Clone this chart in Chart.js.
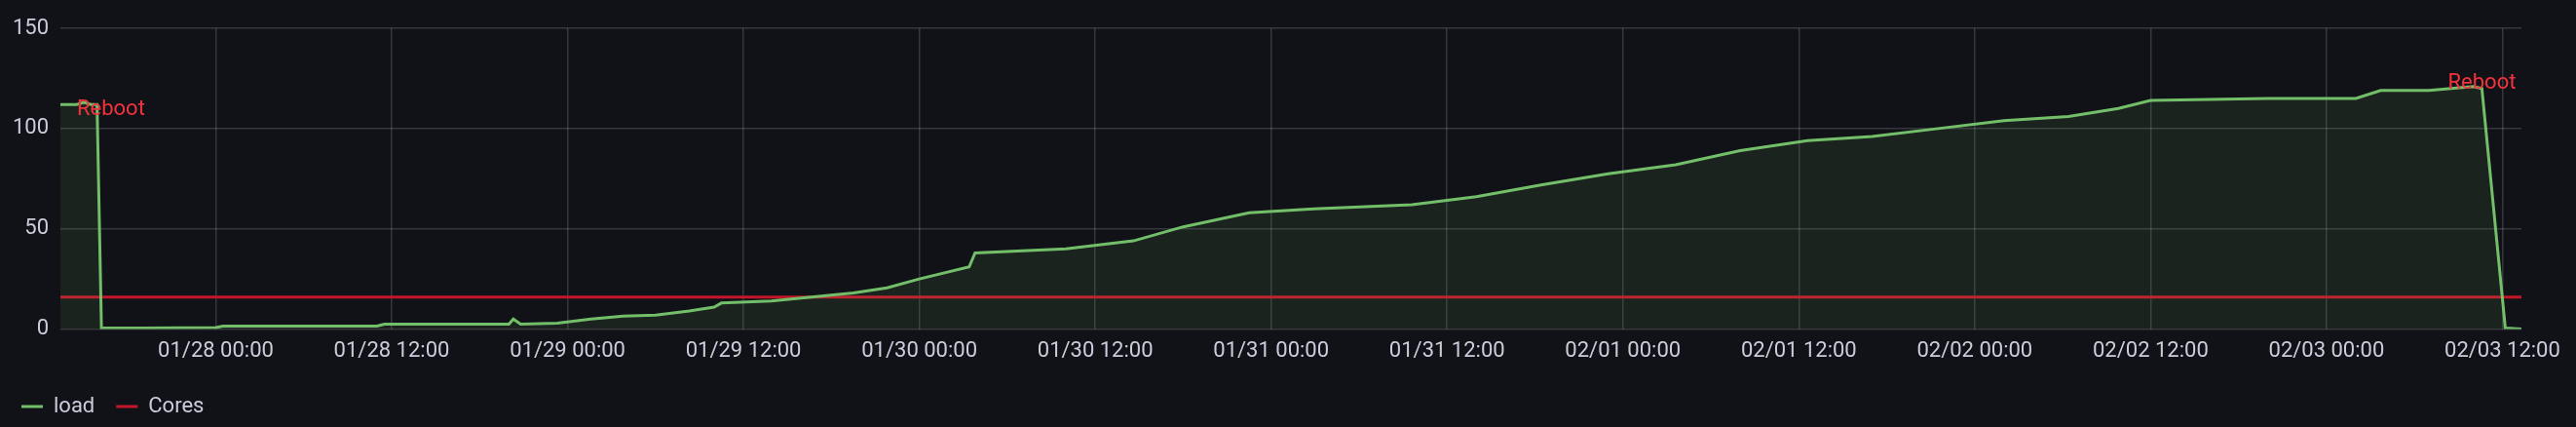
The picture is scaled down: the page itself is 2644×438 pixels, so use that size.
<!DOCTYPE html>
<html>
<head>
<meta charset="utf-8">
<script src="https://cdn.jsdelivr.net/npm/chart.js@4/dist/chart.umd.min.js"></script>
<style>
  html, body { margin: 0; padding: 0; background: #111217; }
  #wrap { width: 2644px; height: 438px; }
</style>
</head>
<body>
<div id="wrap"><canvas id="c"></canvas></div>
<script>
// hours relative to 01/28 00:00
var loadHours = [-10.6, -9.5, -9, -8.5, -8.1, -7.8, -5, 0, 0.5, 11, 11.5, 20, 20.3, 20.8, 23.3, 25.6, 27.8, 30, 32.3, 34, 34.5,
  37.9, 43.5, 45.8, 48, 51.4, 51.8, 58, 62.6, 66, 70.5, 74.9, 81.6, 86, 90.5, 95, 99.6, 104, 108.6, 113, 117.5,
  122, 126.4, 129.8, 132, 140, 146, 147.7, 151, 154, 154.6, 156.2, 157.3];
var loadValues = [112, 112, 113, 112, 112, 0.5, 0.5, 0.8, 1.5, 1.5, 2.5, 2.5, 5, 2.5, 3, 5, 6.5, 7, 9, 11, 13,
  14, 18, 20.6, 25, 31, 38, 40, 44, 51, 58, 60, 62, 66, 72, 77.5, 82, 89, 94, 96, 100,
  104, 106, 110, 114, 115, 115, 119, 119, 121, 120, 0.5, 0];
var coresValue = 16;
var rebootHours = [-10.6, 154.6];
var rebootLabelY = [104, 117];
var xTickHours = [0, 12, 24, 36, 48, 60, 72, 84, 96, 108, 120, 132, 144, 156];
var xTickLabels = ['01/28 00:00', '01/28 12:00', '01/29 00:00', '01/29 12:00', '01/30 00:00', '01/30 12:00',
  '01/31 00:00', '01/31 12:00', '02/01 00:00', '02/01 12:00', '02/02 00:00', '02/02 12:00', '02/03 00:00', '02/03 12:00'];
var yTicks = [0, 50, 100, 150];

var textColor = '#ccccdc';
var gridColor = 'rgba(204,204,220,0.2)';

var rebootPlugin = {
  id: 'reboot',
  afterDatasetsDraw: function(chart){
    var ctx = chart.ctx, xs = chart.scales.x, ys = chart.scales.y;
    ctx.save();
    ctx.font = '22px Roboto';
    ctx.fillStyle = '#f2323c';
    ctx.textBaseline = 'bottom';
    rebootHours.forEach(function(h, i){
      var x = xs.getPixelForValue(h);
      var y = ys.getPixelForValue(rebootLabelY[i]);
      ctx.textAlign = i === 0 ? 'left' : 'right';
      ctx.fillText('Reboot', i === 0 ? x + 17 : x + 35, y);
    });
    ctx.restore();
  }
};

new Chart(document.getElementById('c'), {
  type: 'line',
  data: {
    datasets: [{
      label: 'load',
      data: loadHours.map(function(h, i){ return {x: h, y: loadValues[i]}; }),
      borderColor: '#73bf69',
      backgroundColor: 'rgba(115,191,105,0.1)',
      borderWidth: 3,
      fill: 'origin',
      pointRadius: 0,
      tension: 0
    }, {
      label: 'Cores',
      data: [{x: -10.6, y: coresValue}, {x: 157.3, y: coresValue}],
      borderColor: '#c4162a',
      borderWidth: 3,
      pointRadius: 0,
      fill: false
    }]
  },
  options: {
    responsive: true,
    maintainAspectRatio: false,
    animation: false,
    layout: { padding: { top: 29, right: 56, left: 0, bottom: 0 } },
    scales: {
      x: {
        type: 'linear',
        min: -10.6,
        max: 157.3,
        afterBuildTicks: function(axis){
          axis.ticks = xTickHours.map(function(v){ return {value: v}; });
        },
        ticks: {
          color: textColor,
          font: { family: 'Roboto', size: 22 },
          maxRotation: 0,
          autoSkip: false,
          padding: 10,
          callback: function(v){ return xTickLabels[xTickHours.indexOf(v)]; }
        },
        grid: { color: gridColor, lineWidth: 1.5, drawTicks: false },
        border: { display: false }
      },
      y: {
        min: 0,
        max: 150,
        afterBuildTicks: function(axis){
          axis.ticks = yTicks.map(function(v){ return {value: v}; });
        },
        afterFit: function(axis){ axis.width = 62; },
        ticks: {
          color: textColor,
          font: { family: 'Roboto', size: 22 },
          padding: 12
        },
        grid: { color: gridColor, lineWidth: 1.5, drawTicks: false },
        border: { display: false }
      }
    },
    plugins: {
      legend: {
        position: 'bottom',
        align: 'start',
        labels: {
          color: textColor,
          font: { family: 'Roboto', size: 22 },
          boxWidth: 22,
          boxHeight: 3,
          padding: 22,
          generateLabels: function(chart){
            return chart.data.datasets.map(function(d, i){
              return { text: d.label, fillStyle: d.borderColor, strokeStyle: d.borderColor, lineWidth: 0, datasetIndex: i, fontColor: textColor };
            });
          }
        }
      },
      tooltip: { enabled: false }
    }
  },
  plugins: [rebootPlugin]
});
</script>
</body>
</html>
